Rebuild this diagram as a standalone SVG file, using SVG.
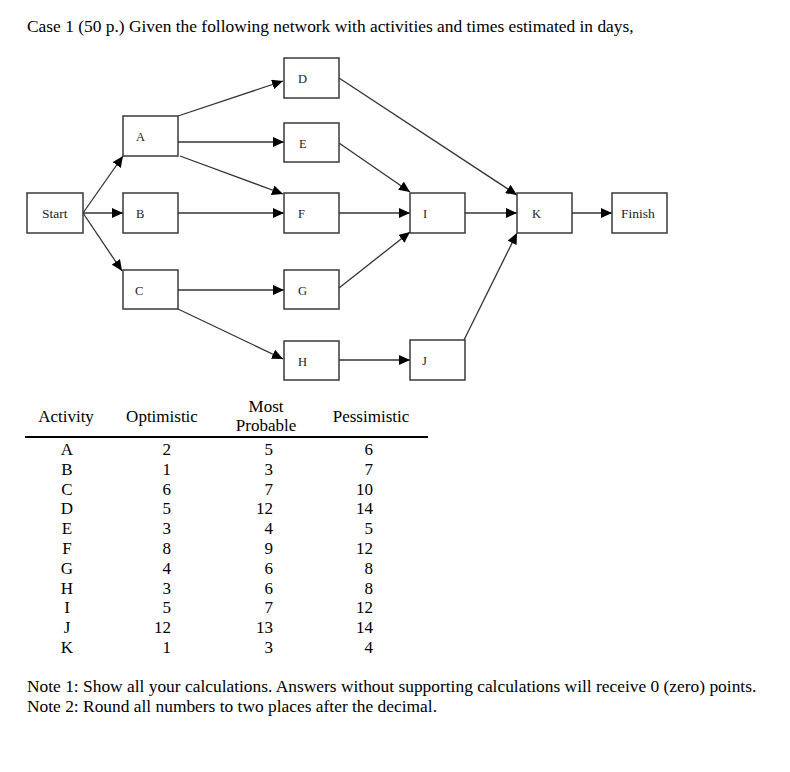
<svg xmlns="http://www.w3.org/2000/svg" width="790" height="772" viewBox="0 0 790 772">
<style>
.box{fill:#fff;stroke:#3a3a3a;stroke-width:1.5}
.lbl{font-family:"Liberation Serif","Times New Roman",serif;font-size:12.5px;fill:#222}
.lblw{font-family:"Liberation Serif","Times New Roman",serif;font-size:13.5px;fill:#222}
.edge{stroke:#333;stroke-width:1.3;fill:none;marker-end:url(#arr)}
.t{font-family:"Liberation Serif","Times New Roman",serif;font-size:17.4px;fill:#000}
.tb{font-family:"Liberation Serif","Times New Roman",serif;font-size:17px;fill:#000}
.c{text-anchor:middle}
.r{text-anchor:end}
</style>
<defs>
<marker id="arr" markerUnits="userSpaceOnUse" markerWidth="12" markerHeight="10" refX="11" refY="5" orient="auto">
<path d="M0,0 L11,5 L0,10 z" fill="#000"/>
</marker>
</defs>
<rect width="790" height="772" fill="#fff"/>
<text class="t" x="27" y="32">Case 1 (50 p.) Given the following network with activities and times estimated in days,</text>

<g id="connectors">
<line class="edge" x1="83" y1="213" x2="123" y2="156"/>
<line class="edge" x1="83" y1="213" x2="123" y2="213"/>
<line class="edge" x1="83" y1="213" x2="122" y2="271"/>
<line class="edge" x1="178" y1="116" x2="283" y2="81"/>
<line class="edge" x1="178" y1="142" x2="284" y2="142"/>
<line class="edge" x1="180" y1="156" x2="283" y2="194"/>
<line class="edge" x1="178" y1="213" x2="284" y2="213"/>
<line class="edge" x1="178" y1="290" x2="284" y2="290"/>
<line class="edge" x1="178" y1="309" x2="283" y2="359"/>
<line class="edge" x1="339" y1="78" x2="517" y2="195"/>
<line class="edge" x1="339" y1="143" x2="410" y2="192"/>
<line class="edge" x1="339" y1="213" x2="410" y2="213"/>
<line class="edge" x1="339" y1="288" x2="410" y2="232"/>
<line class="edge" x1="465" y1="213" x2="517" y2="213"/>
<line class="edge" x1="338" y1="360" x2="410" y2="360"/>
<line class="edge" x1="463" y1="342" x2="517" y2="233"/>
<line class="edge" x1="572" y1="213" x2="612" y2="213"/>
</g>

<g id="node-start"><rect class="box" x="27" y="193" width="56" height="40"/><text class="lblw" x="42" y="218">Start</text></g>
<g id="node-A"><rect class="box" x="123" y="116" width="55" height="40"/><text class="lbl" x="136" y="141">A</text></g>
<g id="node-B"><rect class="box" x="123" y="193" width="55" height="40"/><text class="lbl" x="136" y="218">B</text></g>
<g id="node-C"><rect class="box" x="123" y="270" width="55" height="39"/><text class="lbl" x="135" y="295">C</text></g>
<g id="node-D"><rect class="box" x="284" y="58" width="55" height="40"/><text class="lbl" x="298" y="83">D</text></g>
<g id="node-E"><rect class="box" x="284" y="123" width="55" height="39"/><text class="lbl" x="299" y="148">E</text></g>
<g id="node-F"><rect class="box" x="284" y="193" width="55" height="40"/><text class="lbl" x="298" y="218">F</text></g>
<g id="node-G"><rect class="box" x="284" y="270" width="55" height="39"/><text class="lbl" x="298" y="295">G</text></g>
<g id="node-H"><rect class="box" x="284" y="341" width="55" height="39"/><text class="lbl" x="298" y="366">H</text></g>
<g id="node-I"><rect class="box" x="410" y="193" width="55" height="40"/><text class="lbl" x="423" y="218">I</text></g>
<g id="node-J"><rect class="box" x="410" y="340" width="55" height="40"/><text class="lbl" x="422" y="365">J</text></g>
<g id="node-K"><rect class="box" x="517" y="193" width="55" height="40"/><text class="lbl" x="532" y="218">K</text></g>
<g id="node-finish"><rect class="box" x="612" y="193" width="55" height="40"/><text class="lblw" x="621" y="218">Finish</text></g>

<g id="table">
<text class="tb c" x="66" y="422">Activity</text>
<text class="tb c" x="162" y="422">Optimistic</text>
<text class="tb c" x="266" y="412">Most</text>
<text class="tb c" x="266" y="431">Probable</text>
<text class="tb c" x="371" y="422">Pessimistic</text>
<line x1="25" y1="437" x2="428" y2="437" stroke="#000" stroke-width="2.2"/>
<g class="tb c">
<text x="67" y="455">A</text><text x="67" y="474.8">B</text><text x="67" y="494.6">C</text><text x="67" y="514.4">D</text><text x="67" y="534.2">E</text><text x="67" y="554">F</text><text x="67" y="573.8">G</text><text x="67" y="593.6">H</text><text x="67" y="613.4">I</text><text x="67" y="633.2">J</text><text x="67" y="653">K</text>
</g>
<g class="tb r">
<text x="171" y="455">2</text><text x="171" y="474.8">1</text><text x="171" y="494.6">6</text><text x="171" y="514.4">5</text><text x="171" y="534.2">3</text><text x="171" y="554">8</text><text x="171" y="573.8">4</text><text x="171" y="593.6">3</text><text x="171" y="613.4">5</text><text x="171" y="633.2">12</text><text x="171" y="653">1</text>
<text x="273" y="455">5</text><text x="273" y="474.8">3</text><text x="273" y="494.6">7</text><text x="273" y="514.4">12</text><text x="273" y="534.2">4</text><text x="273" y="554">9</text><text x="273" y="573.8">6</text><text x="273" y="593.6">6</text><text x="273" y="613.4">7</text><text x="273" y="633.2">13</text><text x="273" y="653">3</text>
<text x="373" y="455">6</text><text x="373" y="474.8">7</text><text x="373" y="494.6">10</text><text x="373" y="514.4">14</text><text x="373" y="534.2">5</text><text x="373" y="554">12</text><text x="373" y="573.8">8</text><text x="373" y="593.6">8</text><text x="373" y="613.4">12</text><text x="373" y="633.2">14</text><text x="373" y="653">4</text>
</g>
</g>

<text class="t" x="27" y="692">Note 1: Show all your calculations. Answers without supporting calculations will receive 0 (zero) points.</text>
<text class="t" x="27" y="712">Note 2: Round all numbers to two places after the decimal.</text>
</svg>
